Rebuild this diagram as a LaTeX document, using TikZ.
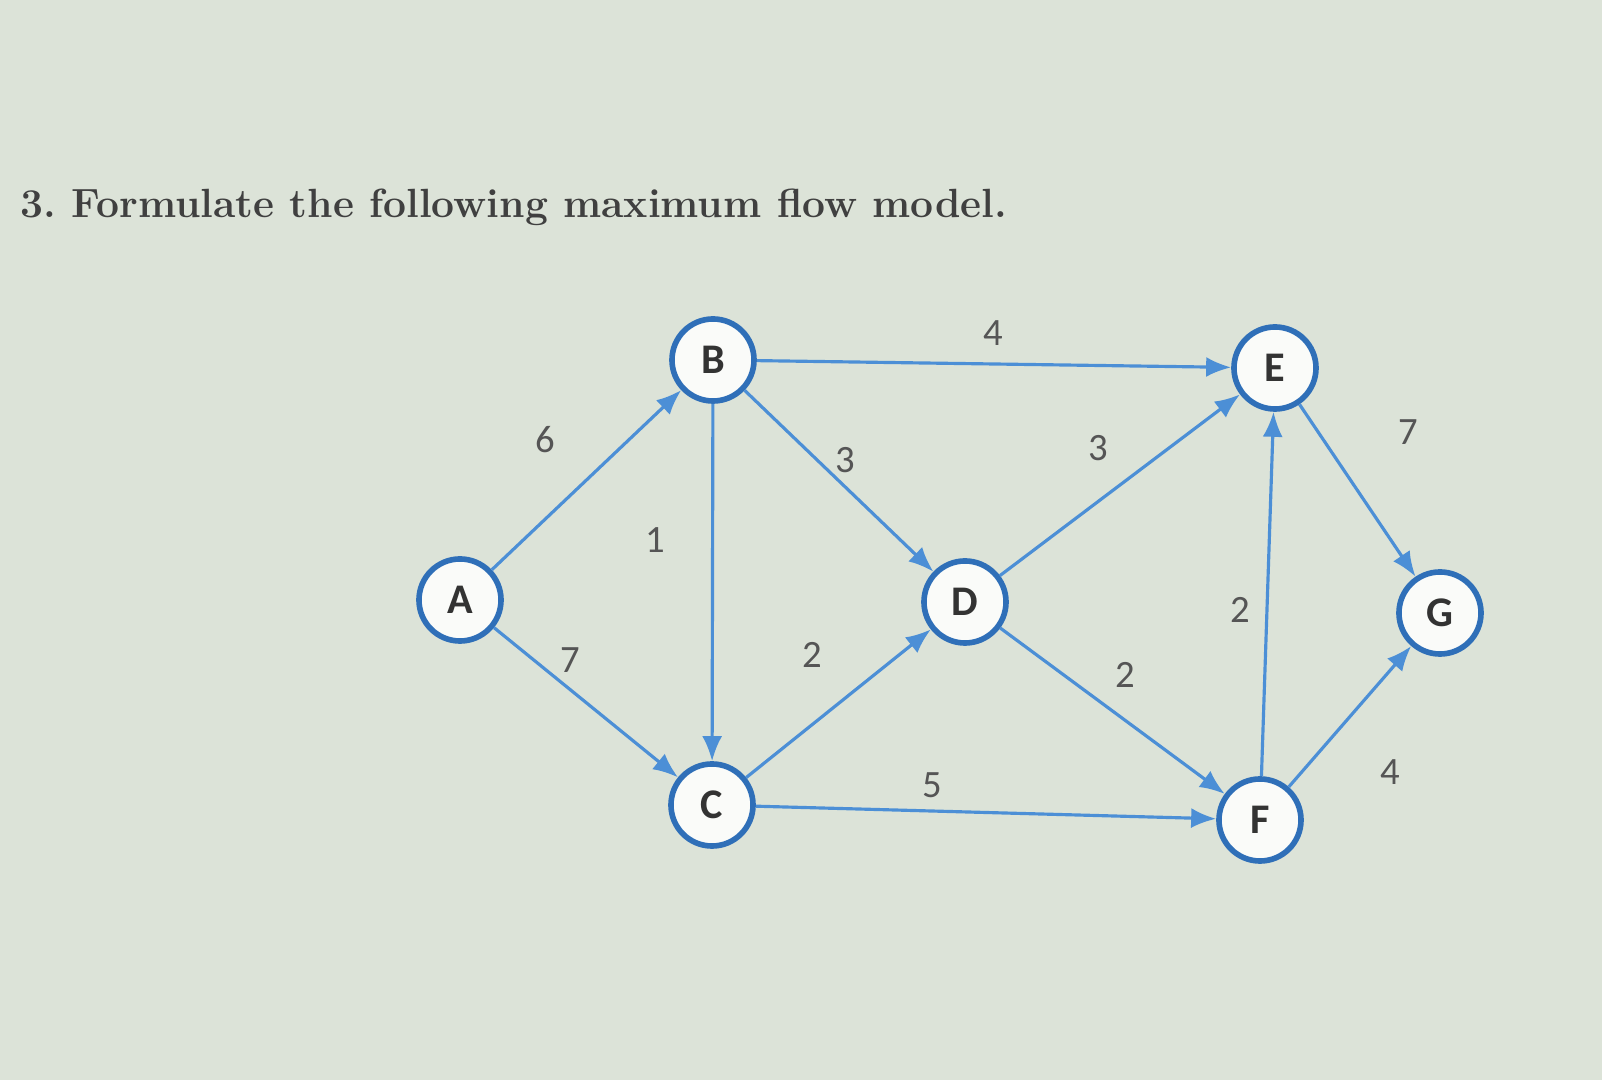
\documentclass[tikz,border=0pt]{standalone}
\usepackage{fontspec}
\newfontfamily\nodefont{Carlito}
\usetikzlibrary{arrows.meta}
\definecolor{bg}{HTML}{DCE3D8}
\definecolor{ring}{HTML}{2F6FB8}
\definecolor{edge}{HTML}{4C8FD6}
\definecolor{numc}{HTML}{555555}
\tikzset{
 vert/.style={circle,draw=ring,line width=1.6pt,fill=white!85!bg,minimum size=0.82cm,inner sep=0pt,font=\nodefont\bfseries\fontsize{12}{14}\selectfont,text=black!80},
 arc/.style={draw=edge,line width=0.9pt,-{Latex[length=2.5mm,width=2mm]}},
 capnum/.style={font=\nodefont\fontsize{11}{13}\selectfont,text=numc}
}
\begin{document}
\begin{tikzpicture}[x=0.01cm,y=-0.01cm]
\fill[bg] (0,0) rectangle (1602,1080);
\useasboundingbox (0,0) rectangle (1602,1080);
\node[anchor=west,font=\bfseries\fontsize{11.6}{14}\selectfont,text=black!75] (title) at (8,207) {3.\ Formulate the following maximum flow model.};
\node[vert] (A) at (460,600) {A};
\node[vert] (B) at (713,360) {B};
\node[vert] (C) at (712,805) {C};
\node[vert] (D) at (965,602) {D};
\node[vert] (E) at (1275,368) {E};
\node[vert] (F) at (1260,820) {F};
\node[vert] (G) at (1440,613) {G};
\draw[arc] (A) -- (B);
\draw[arc] (A) -- (C);
\draw[arc] (B) -- (C);
\draw[arc] (B) -- (D);
\draw[arc] (B) -- (E);
\draw[arc] (C) -- (D);
\draw[arc] (C) -- (F);
\draw[arc] (D) -- (E);
\draw[arc] (D) -- (F);
\draw[arc] (F) -- (E);
\draw[arc] (E) -- (G);
\draw[arc] (F) -- (G);
\node[capnum] (l1) at (545,440) {6};
\node[capnum] (l2) at (570,660) {7};
\node[capnum] (l3) at (655,540) {1};
\node[capnum] (l4) at (845,460) {3};
\node[capnum] (l5) at (993,333) {4};
\node[capnum] (l6) at (812,655) {2};
\node[capnum] (l7) at (932,785) {5};
\node[capnum] (l8) at (1098,448) {3};
\node[capnum] (l9) at (1125,675) {2};
\node[capnum] (l10) at (1240,610) {2};
\node[capnum] (l11) at (1408,432) {7};
\node[capnum] (l12) at (1390,772) {4};
\end{tikzpicture}
\end{document}
